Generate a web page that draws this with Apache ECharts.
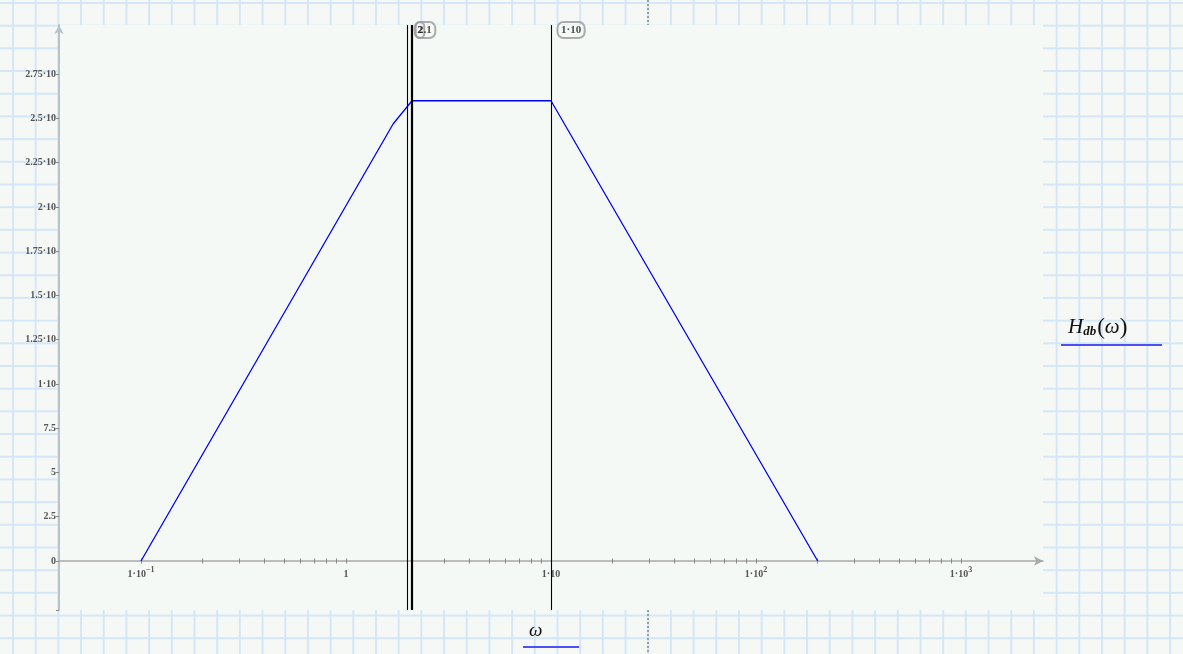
<!DOCTYPE html>
<html><head><meta charset="utf-8">
<script src="https://cdn.jsdelivr.net/npm/echarts@6/dist/echarts.min.js"></script>
<style>
html,body{margin:0;padding:0;}
body{width:1183px;height:654px;overflow:hidden;background-color:#f5f8f5;
background-image:linear-gradient(to right,#d4e7f8 2px,transparent 2px),linear-gradient(to bottom,#d4e7f8 2px,transparent 2px);
background-size:22.7px 22.7px;background-position:12px 2px;}
#c{width:1183px;height:654px;}
</style></head><body><div id="c"></div>
<script>
// data
const omega = [0.1, 1.7, 2.1, 10, 200];
const hdb = [0, 24.7, 26.0, 26.0, 0];
const markerValues = [2, 2.1, 10];
const markerLabels = ['2', '2.1', '1\u00b710'];
const xLabelValues = [0.1, 1, 10, 100, 1000];
const xLabelBases = ['1\u00b710', '1', '1\u00b710', '1\u00b710', '1\u00b710'];
const xLabelExps = ['\u22121', '', '', '2', '3'];
const yTickValues = [0, 2.5, 5, 7.5, 10, 12.5, 15, 17.5, 20, 22.5, 25, 27.5];
const yLabelTexts = ['0', '2.5', '5', '7.5', '1\u00b710', '1.25\u00b710', '1.5\u00b710', '1.75\u00b710', '2\u00b710', '2.25\u00b710', '2.5\u00b710', '2.75\u00b710'];
const xMin = Math.pow(10, -1.4), xMax = Math.pow(10, 3.4);
const yMin = -2.77, yMax = 30.28;

const xTickValues = [];
[0.1, 1, 10, 100].forEach(d => { for (let m = 1; m <= 9; m++) xTickValues.push(+(m * d).toPrecision(6)); });
xTickValues.push(1000);

function xFmt(v) {
  for (let i = 0; i < xLabelValues.length; i++) if (Math.abs(Math.log10(v) - Math.log10(xLabelValues[i])) < 1e-6) {
    return '{n|' + xLabelBases[i] + '}' + (xLabelExps[i] ? '{s|' + xLabelExps[i] + '}' : '');
  }
  return '';
}
function yFmt(v) {
  for (let i = 0; i < yTickValues.length; i++) if (Math.abs(v - yTickValues[i]) < 1e-6) return yLabelTexts[i];
  return '';
}
const gridTop = 25, gridBottom = 44, plotH = 654 - gridTop - gridBottom;
// place the x axis on value 0 of the y scale (keeps labels next to the line)
const zeroOffset = -plotH * (0 - yMin) / (yMax - yMin);

const tickFont = { fontFamily: 'Liberation Serif', fontWeight: 'bold', fontSize: 10, color: '#555' };
const markerLabelStyle = [
  { position: [8, -3], padding: [3, 1.5, 2, 1.5] },
  { position: [2.5, -3], padding: [3, 3.5, 2, 3.5] },
  { position: [6.5, -3], padding: [3, 3.5, 2, 3.5] }
];
const chart = echarts.init(document.getElementById('c'), null, { renderer: 'canvas' });
chart.setOption({
  animation: false,
  grid: { left: 59, right: 140, top: gridTop, bottom: gridBottom, show: true, backgroundColor: '#f5f9f5', borderWidth: 0 },
  xAxis: [{
    type: 'log', min: xMin, max: xMax, logBase: 10, offset: zeroOffset,
    axisLine: { onZero: false, lineStyle: { color: '#a8a8a8', width: 1.5 }, symbol: ['none', 'arrow'], symbolSize: [7, 9] },
    axisTick: { show: true, length: 2.5, lineStyle: { color: '#888' }, customValues: xTickValues },
    minorTick: { show: false },
    axisLabel: {
      margin: 4, customValues: xLabelValues, formatter: xFmt,
      rich: {
        n: { ...tickFont, verticalAlign: 'bottom', lineHeight: 14 },
        s: { ...tickFont, fontSize: 8, verticalAlign: 'bottom', lineHeight: 14, padding: [0, 0, 5, 0] }
      }
    },
    splitLine: { show: false }
  }, {
    type: 'log', min: xMin, max: xMax, logBase: 10, position: 'bottom', offset: zeroOffset,
    axisLine: { show: false, onZero: false },
    axisTick: { show: true, inside: true, length: 2.5, lineStyle: { color: '#888' }, customValues: xTickValues },
    axisLabel: { show: false },
    splitLine: { show: false }
  }],
  yAxis: {
    type: 'value', min: yMin, max: yMax,
    axisLine: { show: true, lineStyle: { color: '#b7c2cb', width: 2 }, symbol: ['none', 'arrow'], symbolSize: [7, 9] },
    axisTick: { show: true, length: 3, lineStyle: { color: '#888' }, customValues: yTickValues.concat([yMin]) },
    axisLabel: { ...tickFont, margin: 3, customValues: yTickValues, formatter: yFmt },
    splitLine: { show: false }
  },
  series: [{
    type: 'line', xAxisIndex: 0, data: omega.map((w, i) => [w, hdb[i]]),
    showSymbol: false, symbol: 'none', lineStyle: { color: '#0000ff', width: 1.3 }, z: 3,
    markLine: {
      silent: true, symbol: 'none', label: { show: false },
      lineStyle: { color: '#000', type: 'solid' },
      data: markerValues.map((v, i) => ({ xAxis: v, lineStyle: { width: i === 1 ? 2.2 : 1.1 } }))
    }
  }, {
    type: 'scatter', xAxisIndex: 0, symbolSize: 0, clip: false, z: 5,
    data: markerValues.map((v, i) => ({ value: [v, yMax], label: markerLabelStyle[i] })),
    label: {
      show: true, formatter: p => markerLabels[p.dataIndex],
      fontFamily: 'Liberation Serif', fontWeight: 'bold', fontSize: 11, color: '#222',
      backgroundColor: 'transparent', borderColor: '#999', borderWidth: 1, borderRadius: 6
    }
  }],
  graphic: [
    { type: 'line', shape: { x1: 648, y1: 0, x2: 648, y2: 25 }, style: { stroke: '#888', lineWidth: 1.5, lineDash: [2, 2] } },
    { type: 'line', shape: { x1: 648, y1: 610, x2: 648, y2: 654 }, style: { stroke: '#888', lineWidth: 1.5, lineDash: [2, 2] } },
    { type: 'text', left: 1068, top: 316, style: {
      text: '{i|H}{s|db}{p|(}{i|\u03c9}{p|)}',
      rich: {
        i: { fontFamily: 'Liberation Serif', fontStyle: 'italic', fontSize: 21, fill: '#111' },
        s: { fontFamily: 'Liberation Serif', fontStyle: 'italic', fontWeight: 'bold', fontSize: 13, fill: '#111', padding: [9, 1, 0, 0] },
        p: { fontFamily: 'Liberation Serif', fontSize: 23, fill: '#111' }
      } } },
    { type: 'line', shape: { x1: 1061, y1: 345, x2: 1162, y2: 345 }, style: { stroke: '#4f4ff7', lineWidth: 2 } },
    { type: 'text', left: 529, top: 621, style: { text: '\u03c9', fontFamily: 'Liberation Serif', fontStyle: 'italic', fontSize: 19, fill: '#111' } },
    { type: 'line', shape: { x1: 523, y1: 647, x2: 579, y2: 647 }, style: { stroke: '#4f4ff7', lineWidth: 2 } }
  ]
});
</script></body></html>
